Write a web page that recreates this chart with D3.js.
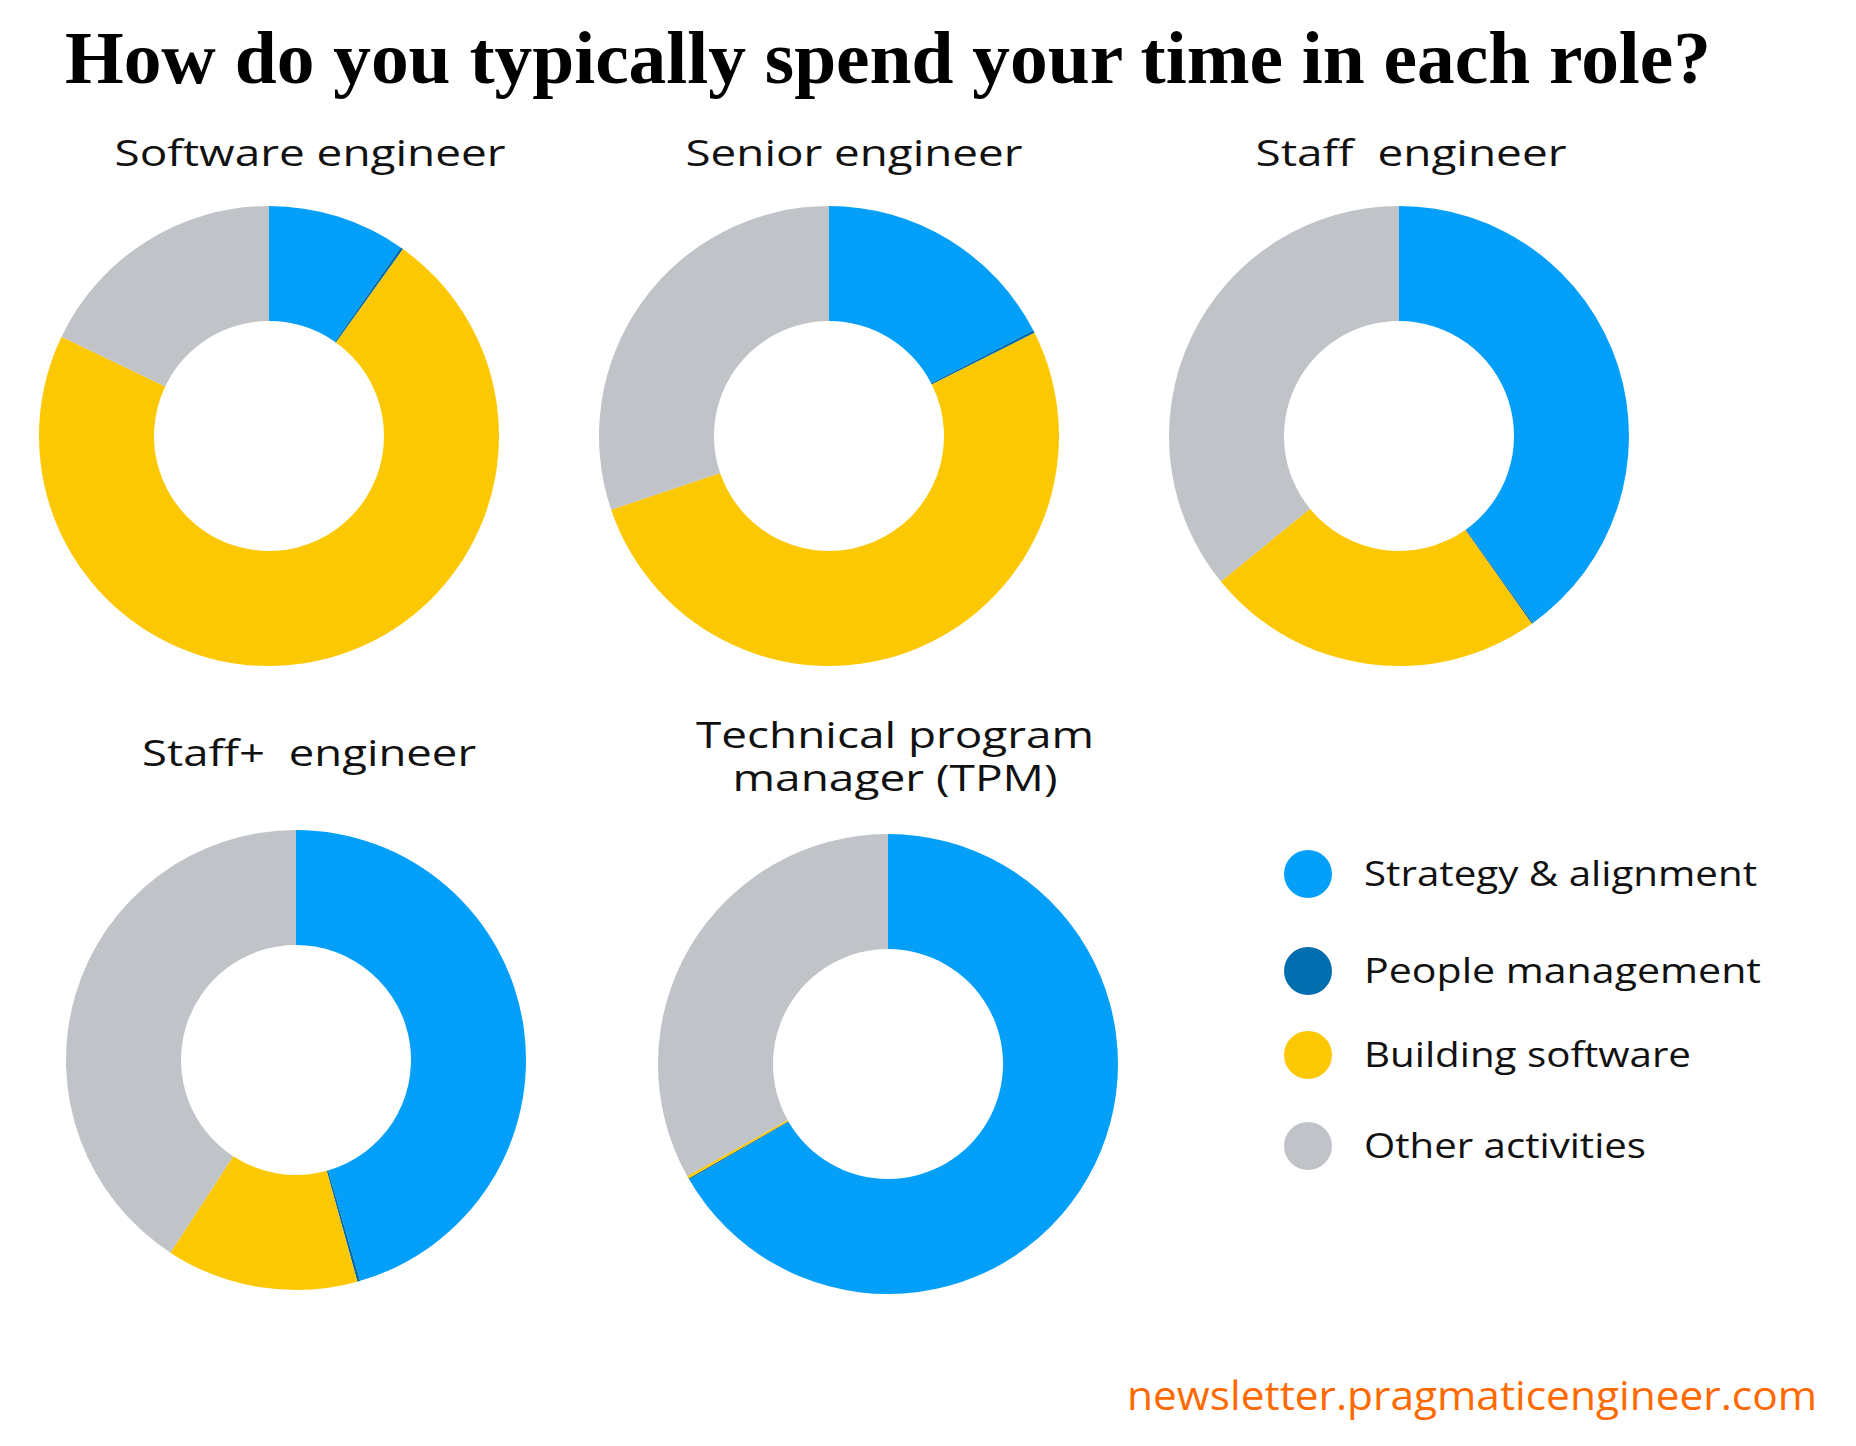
<!DOCTYPE html>
<html><head><meta charset="utf-8">
<script src="https://cdn.jsdelivr.net/npm/d3@7"></script>
<style>body{margin:0;background:#fff}</style>
</head><body>
<svg id="c" width="1856" height="1446"></svg>
<script>
const roles = ["Software engineer","Senior engineer","Staff\u00a0\u00a0engineer","Staff+\u00a0\u00a0engineer","Technical program|manager (TPM)"];
const categories = ["Strategy & alignment","People management","Building software","Other activities"];
const strategy = [9.7, 17.4, 40.1, 45.5, 66.6];
const people   = [0.2, 0.2, 0.1, 0.2, 0.1];
const building = [72.2, 52.2, 23.9, 13.5, 0.2];
const other    = [17.9, 30.2, 35.9, 40.8, 33.1];

const colors = ["#049FF9","#006DAE","#FCC804","#C0C3C7"];
const svg = d3.select("#c");
svg.append("rect").attr("width",1856).attr("height",1446).attr("fill","#fff");

svg.append("text").attr("x",65).attr("y",83)
  .attr("font-family","'Liberation Serif','DejaVu Serif',serif").attr("font-weight","bold")
  .attr("font-size",74).attr("textLength",1646).attr("lengthAdjust","spacingAndGlyphs")
  .attr("fill","#000").text("How do you typically spend your time in each role?");

const layout = [
  {cx:269, cy:436, tx:310, ty:166, w:[391]},
  {cx:829, cy:436, tx:854, ty:166, w:[337]},
  {cx:1399,cy:436, tx:1411,ty:166, w:[311]},
  {cx:296, cy:1060,tx:309, ty:766, w:[334]},
  {cx:888, cy:1064,tx:895, ty:748, w:[398,325]}
];
const R = 230, r = 115;
const pie = d3.pie().sort(null).value(d=>d);
const arc = d3.arc().innerRadius(r).outerRadius(R);
const color = d3.scaleOrdinal().domain(categories).range(colors);

roles.forEach((role,i)=>{
  const L = layout[i];
  const vals = [strategy[i], people[i], building[i], other[i]];
  const g = svg.append("g").attr("transform",`translate(${L.cx},${L.cy})`);
  g.selectAll("path").data(pie(vals)).join("path")
    .attr("d",arc).attr("fill",(d,j)=>color(categories[j]));
  const lines = role.split("|");
  lines.forEach((ln,k)=>{
    svg.append("text").attr("x",L.tx).attr("y",L.ty + k*43)
      .attr("text-anchor","middle").attr("font-family","'Open Sans',sans-serif")
      .attr("font-size",36).attr("textLength",L.w[k]).attr("lengthAdjust","spacingAndGlyphs")
      .attr("fill","#111").text(ln);
  });
});

const legY = [874, 971, 1055, 1146];
const legW = [393, 397, 327, 282];
categories.forEach((c,i)=>{
  svg.append("circle").attr("cx",1308).attr("cy",legY[i]).attr("r",24).attr("fill",color(c));
  svg.append("text").attr("x",1364).attr("y",legY[i]+12).attr("font-family","'Open Sans',sans-serif")
    .attr("font-size",35).attr("textLength",legW[i]).attr("lengthAdjust","spacingAndGlyphs")
    .attr("fill","#111").text(c);
});

svg.append("text").attr("x",1817).attr("y",1410).attr("text-anchor","end")
  .attr("font-family","'Open Sans',sans-serif").attr("font-size",41).attr("fill","#FF6A00")
  .attr("textLength",690).attr("lengthAdjust","spacingAndGlyphs")
  .text("newsletter.pragmaticengineer.com");
</script>
</body></html>
